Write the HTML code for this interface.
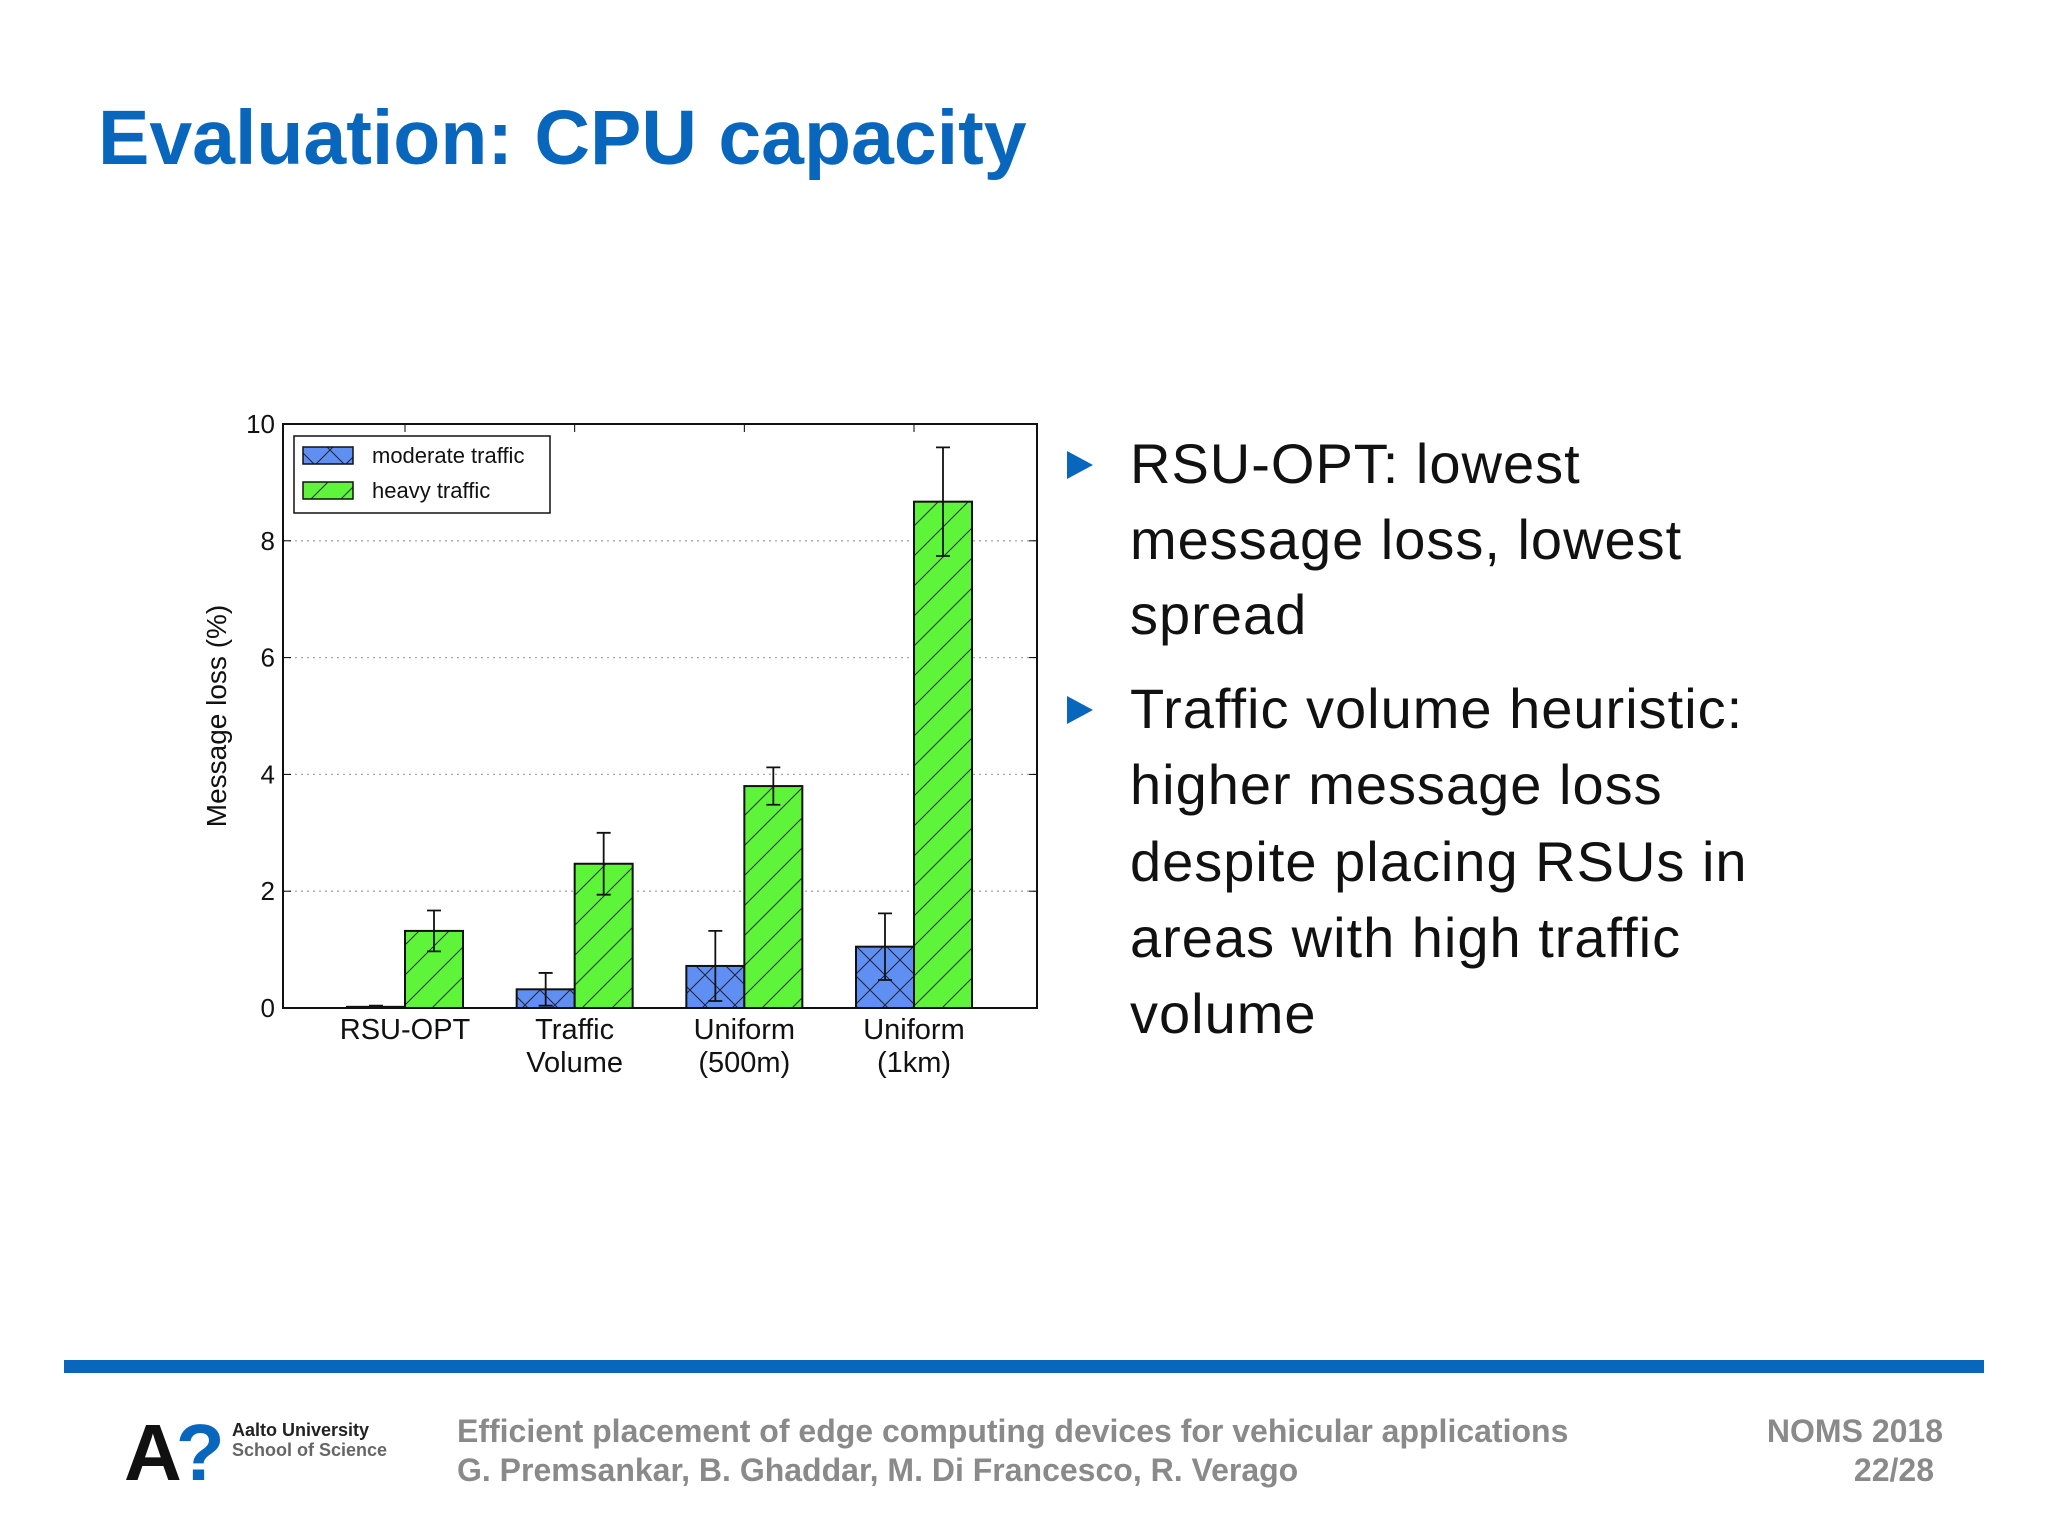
<!DOCTYPE html>
<html><head><meta charset="utf-8"><style>
body{margin:0;width:2048px;height:1536px;background:#fff;position:relative;overflow:hidden;font-family:"Liberation Sans",sans-serif}
.abs{position:absolute}
.title{left:98px;top:94px;font-size:77px;font-weight:bold;color:#0866bd;white-space:nowrap}
.bul{left:1130px;font-size:56px;letter-spacing:1px;color:#111;white-space:nowrap}
.tri{left:1067px;width:0;height:0;border-top:14px solid transparent;border-bottom:14px solid transparent;border-left:26px solid #0866bd}
.foot{color:#8a8a8a;font-weight:bold;font-size:32px;white-space:nowrap}
</style></head><body>
<div class="abs title">Evaluation: CPU capacity</div>

<svg class="abs" style="left:0;top:0" width="2048" height="1536" id="chart">
<defs>
<pattern id="hx" width="30" height="30" patternUnits="userSpaceOnUse"><rect width="30" height="30" fill="#5f8ff2"/><path d="M0,0L30,30M30,0L0,30" stroke="#223" stroke-width="1"/></pattern>
<pattern id="hs" width="30" height="30" patternUnits="userSpaceOnUse"><rect width="30" height="30" fill="#5ef43a"/><path d="M0,30L30,0M-5,5L5,-5M25,35L35,25" stroke="#233" stroke-width="1"/></pattern>
</defs>
</svg>

<div class="abs tri" style="top:451px"></div>
<div class="abs bul" style="top:431px">RSU-OPT: lowest</div>
<div class="abs bul" style="top:507px">message loss, lowest</div>
<div class="abs bul" style="top:582px">spread</div>
<div class="abs tri" style="top:696px"></div>
<div class="abs bul" style="top:676px">Traffic volume heuristic:</div>
<div class="abs bul" style="top:752px">higher message loss</div>
<div class="abs bul" style="top:829px">despite placing RSUs in</div>
<div class="abs bul" style="top:905px">areas with high traffic</div>
<div class="abs bul" style="top:981px">volume</div>

<div class="abs" style="left:64px;top:1360px;width:1920px;height:13px;background:#0866bd"></div>
<div class="abs" style="left:124px;top:1407px;font-size:80px;font-weight:bold;color:#111;letter-spacing:-6px">A<span style="color:#0866bd">?</span></div>
<div class="abs" style="left:232px;top:1420px;font-size:18px;font-weight:bold;color:#222">Aalto University</div>
<div class="abs" style="left:232px;top:1440px;font-size:18px;font-weight:bold;color:#666">School of Science</div>
<div class="abs foot" style="left:457px;top:1413px">Efficient placement of edge computing devices for vehicular applications</div>
<div class="abs foot" style="left:457px;top:1452px">G. Premsankar, B. Ghaddar, M. Di Francesco, R. Verago</div>
<div class="abs foot" style="right:105px;top:1413px">NOMS 2018</div>
<div class="abs foot" style="right:114px;top:1452px">22/28</div>

<script>
const categories=[["RSU-OPT"],["Traffic","Volume"],["Uniform","(500m)"],["Uniform","(1km)"]];
const moderateVals=[0.02,0.32,0.72,1.05];
const moderateErr=[0.02,0.28,0.6,0.57];
const heavyVals=[1.32,2.47,3.8,8.67];
const heavyErr=[0.35,0.53,0.32,0.93];
const yTicks=[0,2,4,6,8,10];
const seriesNames=["moderate traffic","heavy traffic"];

const svg=document.getElementById('chart');
const NS='http://www.w3.org/2000/svg';
const L=283,R=1037,T=424,B=1008;
const y=v=>B-(v/10)*(B-T);
const x0=405,x3=914;
const x=i=>x0+i*(x3-x0)/3;
const bw=58;
function mk(tag,attrs,parent){const e=document.createElementNS(NS,tag);for(const k in attrs)e.setAttribute(k,attrs[k]);(parent||svg).appendChild(e);return e;}

yTicks.forEach(t=>{
  if(t>0&&t<10){const g=mk('line',{x1:L,x2:R,y1:y(t),y2:y(t),stroke:'#aaa','stroke-dasharray':'2,4','stroke-width':1.3});
  
  }
  const tx=mk('text',{x:L-8,y:y(t)+9,'text-anchor':'end','font-size':26,'font-family':'Liberation Sans, sans-serif',fill:'#111'});
  tx.textContent=t;
  
  
  mk('line',{x1:L,x2:L+8,y1:y(t),y2:y(t),stroke:'#000'});
  mk('line',{x1:R,x2:R-8,y1:y(t),y2:y(t),stroke:'#000'});
});

function bar(cx,v,e,fill,name){
  const r=mk('rect',{x:cx,y:y(v),width:bw,height:B-y(v),fill:fill,stroke:'#111','stroke-width':2});
  
  
  const xm=cx+bw/2;
  const eb=mk('path',{d:`M${xm},${y(v-e)}V${y(v+e)}M${xm-7},${y(v-e)}H${xm+7}M${xm-7},${y(v+e)}H${xm+7}`,stroke:'#111','stroke-width':1.8,fill:'none'});
  
  
}
categories.forEach((c,i)=>{
  bar(x(i)-bw,moderateVals[i],moderateErr[i],'url(#hx)','bar-moderate');
  bar(x(i),heavyVals[i],heavyErr[i],'url(#hs)','bar-heavy');
  mk('line',{x1:x(i),x2:x(i),y1:T,y2:T+8,stroke:'#000'});
  c.forEach((ln,j)=>{
    const t=mk('text',{x:x(i),y:B+31+j*33,'text-anchor':'middle','font-size':29,'font-family':'Liberation Sans, sans-serif',fill:'#111'});
    t.textContent=ln;
    
    
  });
});
const frame=mk('rect',{x:L,y:T,width:R-L,height:B-T,fill:'none',stroke:'#111','stroke-width':2});



const yl=mk('text',{x:0,y:0,transform:`translate(226,716) rotate(-90)`,'text-anchor':'middle','font-size':28,'font-family':'Liberation Sans, sans-serif',fill:'#111'});
yl.textContent='Message loss (%)';



const lg=mk('rect',{x:294,y:436,width:256,height:77,fill:'#fff',stroke:'#111','stroke-width':1.5});


seriesNames.forEach((n,i)=>{
  const p=mk('rect',{x:303,y:447+i*35,width:50,height:17,fill:i?'url(#hs)':'url(#hx)',stroke:'#111','stroke-width':1.5});
  
  
  const t=mk('text',{x:372,y:463+i*35,'font-size':22,'font-family':'Liberation Sans, sans-serif',fill:'#111'});
  t.textContent=n;
  
  
});
</script>
</body></html>
